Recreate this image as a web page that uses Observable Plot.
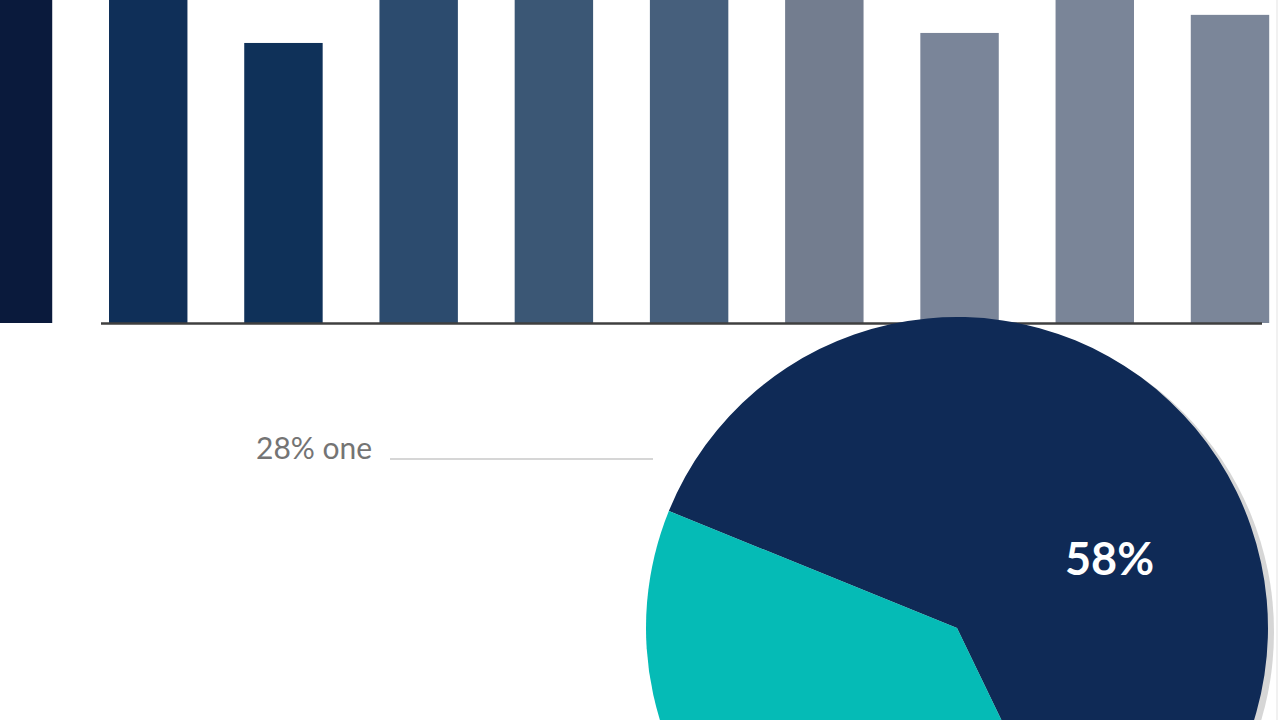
<!DOCTYPE html>
<html>
<head>
<meta charset="utf-8">
<script src="https://cdn.jsdelivr.net/npm/d3@7"></script>
<script src="https://cdn.jsdelivr.net/npm/@observablehq/plot@0.6"></script>
<style>
  html, body { margin: 0; padding: 0; background: #ffffff; overflow: hidden; }
  #chart { width: 1280px; height: 720px; }
</style>
</head>
<body>
<div id="chart"></div>
<script>
// ---- data ----
const categories = ["A", "B", "C", "D", "E", "F", "G", "H", "I", "J"];
const barValues  = [110, 110, 86.7, 110, 110, 110, 110, 89.8, 110, 95.4];
const barColors  = ["#0a1a3c", "#0f2f58", "#0f3159", "#2c4b6e", "#3b5775",
                    "#465f7c", "#737d8f", "#7a8599", "#7a8598", "#7b8699"];

const pieNames  = ["two", "one"];
const pieValues = [58, 36];
const pieColors = ["#0f2a56", "#05bbb6"];
const pieLabel  = "58%";
const calloutLabel = "28% one";

// ---- tables built from the arrays ----
const bars = categories.map((c, i) => ({cat: c, value: barValues[i]}));
const slices = pieNames.map((n, i) => ({name: n, value: pieValues[i], color: pieColors[i]}));

// ---- layout ----
const W = 1280, H = 720;
const pieCx = 957, pieCy = 628, pieR = 311;
const startDeg = -67.9;

function pieMark() {
  const g = d3.create("svg:g").attr("text-anchor", "start");
  // slide border
  g.append("line").attr("x1", 1277).attr("x2", 1277).attr("y1", 0).attr("y2", H)
    .attr("stroke", "#ececec").attr("stroke-width", 1.5);
  // shadow
  g.append("circle").attr("cx", pieCx + 6).attr("cy", pieCy + 4).attr("r", pieR)
    .attr("fill", "#d6d6d6");
  const a0 = startDeg * Math.PI / 180;
  const arcs = d3.pie().sort(null).value(d => d.value)
    .startAngle(a0).endAngle(a0 + 2 * Math.PI)(slices);
  const arc = d3.arc().innerRadius(0).outerRadius(pieR);
  const pg = g.append("g").attr("transform", `translate(${pieCx},${pieCy})`);
  pg.selectAll("path").data(arcs).join("path")
    .attr("d", arc).attr("fill", d => d.data.color);
  // slice label
  const la = 66 * Math.PI / 180, lr = 167;
  pg.append("text")
    .attr("x", Math.sin(la) * lr).attr("y", -Math.cos(la) * lr + 15)
    .attr("text-anchor", "middle")
    .attr("font-family", "Lato, 'Open Sans', sans-serif")
    .attr("font-weight", 700).attr("font-size", 45)
    .attr("fill", "#ffffff").text(pieLabel);
  // callout
  g.append("text").attr("x", 256).attr("y", 459)
    .attr("text-anchor", "start")
    .attr("font-family", "Lato, 'Open Sans', sans-serif")
    .attr("font-size", 30).attr("fill", "#747474").text(calloutLabel);
  g.append("line").attr("x1", 390).attr("x2", 653).attr("y1", 459).attr("y2", 459)
    .attr("stroke", "#d6d6d6").attr("stroke-width", 2);
  return g.node();
}

const chart = Plot.plot({
  width: W,
  height: H,
  margin: 0,
  style: {background: "#ffffff", overflow: "hidden"},
  x: {type: "band", domain: categories, range: [-83, 1326], padding: 0.42, round: false, axis: null},
  y: {domain: [0, 100], range: [323, 0], axis: null},
  color: {domain: categories, range: barColors},
  marks: [
    Plot.barY(bars, {x: "cat", y: "value", fill: "cat", clip: true}),
    Plot.ruleY([0], {stroke: "#3f3f3f", strokeWidth: 2.5, insetLeft: 101, insetRight: 18}),
    pieMark
  ]
});
document.getElementById("chart").appendChild(chart);
</script>
</body>
</html>
